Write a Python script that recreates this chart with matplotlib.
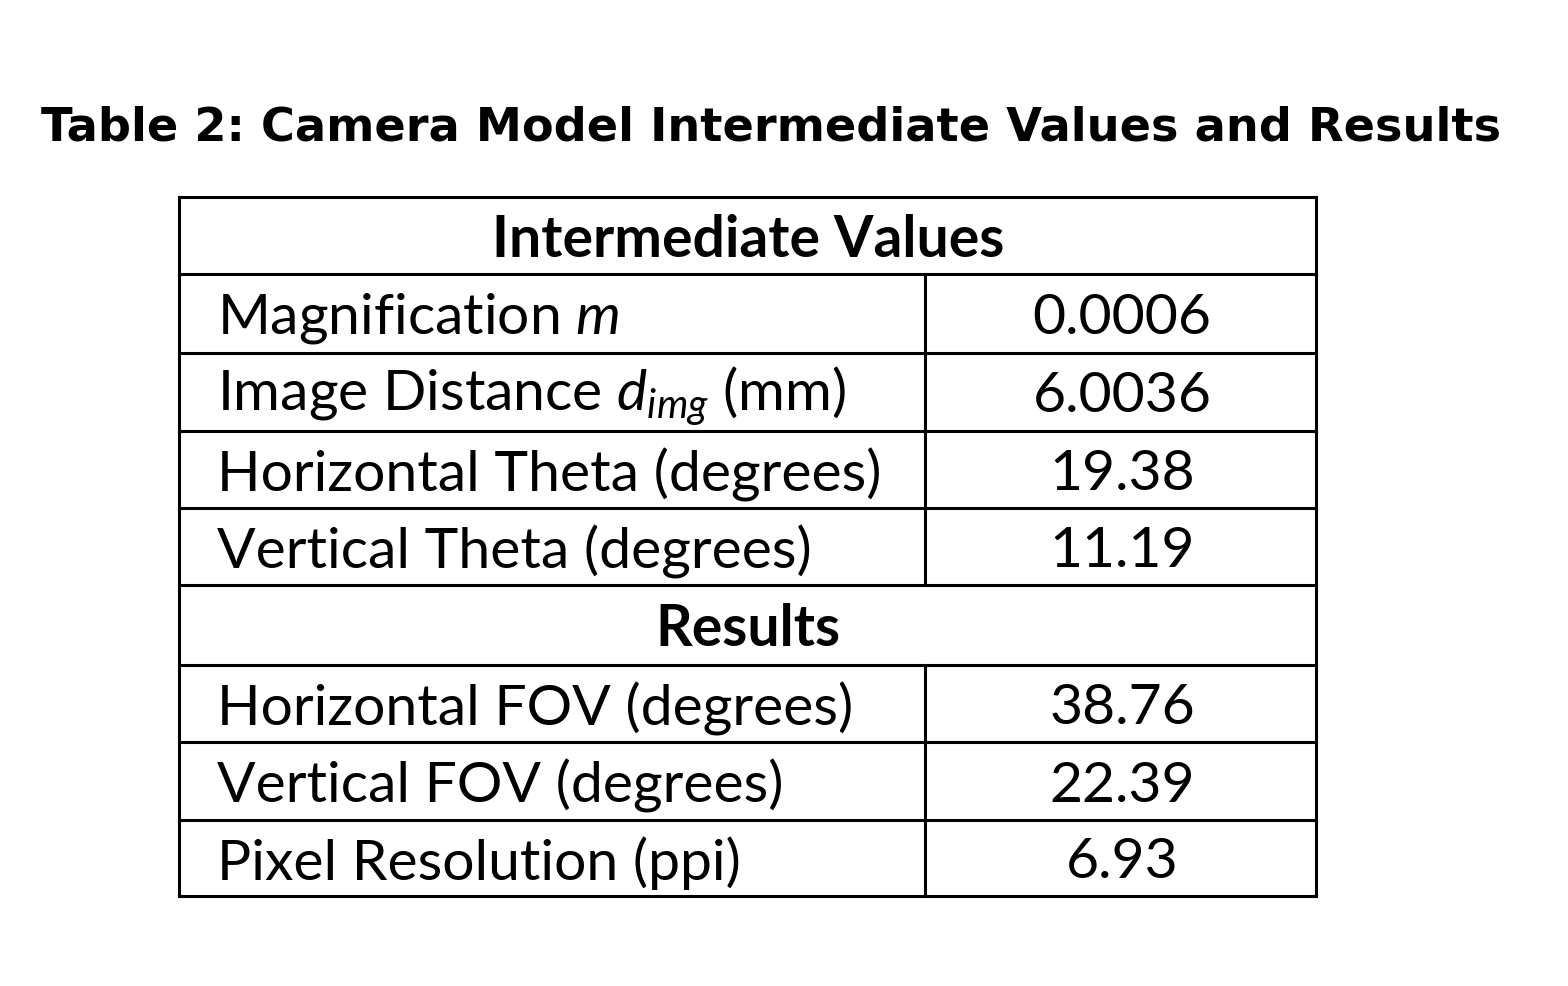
import matplotlib.pyplot as plt

plt.rcParams['mathtext.fontset'] = 'custom'
plt.rcParams['mathtext.rm'] = 'Lato'
plt.rcParams['mathtext.it'] = 'Lato:italic'

title = "Table 2: Camera Model Intermediate Values and Results"
section1 = "Intermediate Values"
labels1 = ["Magnification $m$", "Image Distance $d_{img}$ (mm)",
           "Horizontal Theta (degrees)", "Vertical Theta (degrees)"]
values1 = ["0.0006", "6.0036", "19.38", "11.19"]
section2 = "Results"
labels2 = ["Horizontal FOV (degrees)", "Vertical FOV (degrees)", "Pixel Resolution (ppi)"]
values2 = ["38.76", "22.39", "6.93"]

fig = plt.figure(figsize=(15.68, 9.87), dpi=100)
ax = fig.add_axes([0, 0, 1, 1])
ax.set_xlim(0, 1568)
ax.set_ylim(987, 0)
ax.axis('off')

ax.text(771, 128, title, ha='center', va='center', fontsize=33.3,
        fontweight='bold', family='DejaVu Sans')

lines_y = [198, 275, 354, 432, 509, 586, 666, 743, 821, 897]
left, right, mid = 179, 1316, 925
for y in lines_y:
    ax.plot([left, right], [y, y], color='black', lw=2.2)
ax.plot([left, left], [lines_y[0], lines_y[-1]], color='black', lw=2.2)
ax.plot([right, right], [lines_y[0], lines_y[-1]], color='black', lw=2.2)
for a, b in [(1, 5), (6, 9)]:
    ax.plot([mid, mid], [lines_y[a], lines_y[b]], color='black', lw=2.2)

rows = [(section1, None)] + list(zip(labels1, values1)) + \
       [(section2, None)] + list(zip(labels2, values2))
for i, (lab, val) in enumerate(rows):
    yc = (lines_y[i] + lines_y[i + 1]) / 2 + 4
    if val is None:
        ax.text(748, yc, lab, ha='center', va='center', fontsize=41,
                fontweight='bold', family='Lato')
    else:
        ax.text(217, yc, lab, ha='left', va='center', fontsize=41, family='Lato')
        ax.text(1122, yc, val, ha='center', va='center', fontsize=41, family='Lato')

fig.savefig('out.png', dpi=100)
